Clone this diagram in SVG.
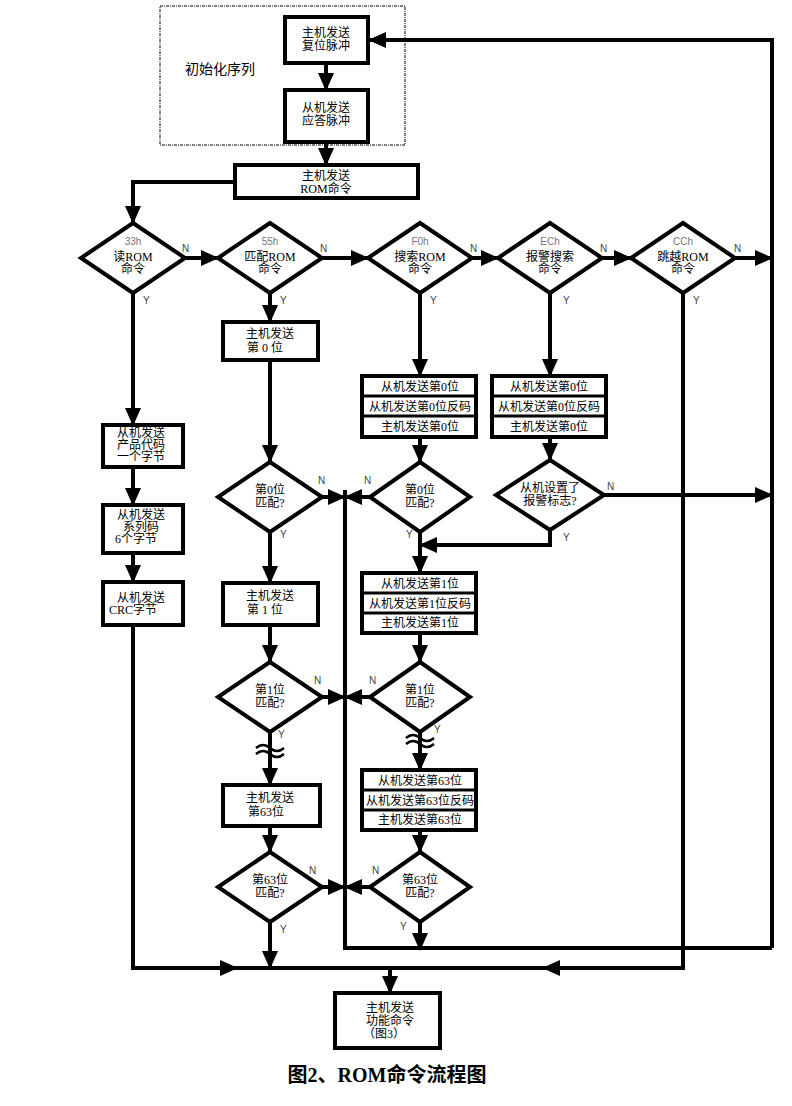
<svg xmlns="http://www.w3.org/2000/svg" width="792" height="1106" viewBox="0 0 792 1106">
<style>
.b{fill:#fff;stroke:#000;stroke-width:4}
.l{fill:none;stroke:#000;stroke-width:4}
.t{font-family:"Liberation Serif","Noto Sans CJK SC",serif;font-size:12px;text-anchor:middle;fill:#000}
.h{font-family:"Liberation Sans",sans-serif;font-size:10px;text-anchor:middle;fill:#777}
.n{font-family:"Liberation Sans",sans-serif;font-size:10px;fill:#444}
</style>
<defs>
<marker id="a" markerUnits="userSpaceOnUse" markerWidth="18" markerHeight="18" viewBox="0 0 18 18" refX="17" refY="9" orient="auto"><path d="M0,1 L18,9 L0,17 Z" fill="#000"/></marker>
</defs>
<rect x="0" y="0" width="792" height="1106" fill="#fff"/>
<g id="init">
<rect x="160" y="6" width="245" height="139" fill="none" stroke="#000" stroke-width="1" stroke-dasharray="3,1,1,1"/>
<text class="t" x="220" y="74" style="font-size:14px">初始化序列</text>
</g>
<g id="connectors">
<path class="l" d="M326,63 V90" marker-end="url(#a)"/>
<path class="l" d="M326,142 V165" marker-end="url(#a)"/>
<path class="l" d="M235,182 H133 V223" marker-end="url(#a)"/>
<path class="l" d="M185,258 H218" marker-end="url(#a)"/>
<path class="l" d="M322,258 H368" marker-end="url(#a)"/>
<path class="l" d="M472,258 H498" marker-end="url(#a)"/>
<path class="l" d="M602,258 H631" marker-end="url(#a)"/>
<path class="l" d="M735,258 H772" marker-end="url(#a)"/>
<path class="l" d="M772,948 V40 H369" marker-end="url(#a)"/>
<path class="l" d="M133,293 V425" marker-end="url(#a)"/>
<path class="l" d="M133,467 V505" marker-end="url(#a)"/>
<path class="l" d="M133,553 V582" marker-end="url(#a)"/>
<path class="l" d="M133,625 V968 H683 V293"/>
<path class="l" d="M133,968 H237" marker-end="url(#a)"/>
<path class="l" d="M683,968 H543" marker-end="url(#a)"/>
<path class="l" d="M390,968 V993" marker-end="url(#a)"/>
<path class="l" d="M270,293 V322" marker-end="url(#a)"/>
<path class="l" d="M270,360 V462" marker-end="url(#a)"/>
<path class="l" d="M270,532 V583" marker-end="url(#a)"/>
<path class="l" d="M270,625 V662" marker-end="url(#a)"/>
<path class="l" d="M270,732 V785" marker-end="url(#a)"/>
<path class="l" d="M270,826 V852" marker-end="url(#a)"/>
<path class="l" d="M270,922 V968" marker-end="url(#a)"/>
<path class="l" d="M420,293 V376" marker-end="url(#a)"/>
<path class="l" d="M420,437 V462" marker-end="url(#a)"/>
<path class="l" d="M420,532 V573" marker-end="url(#a)"/>
<path class="l" d="M420,633 V662" marker-end="url(#a)"/>
<path class="l" d="M420,732 V770" marker-end="url(#a)"/>
<path class="l" d="M420,830 V852" marker-end="url(#a)"/>
<path class="l" d="M420,922 V950" marker-end="url(#a)"/>
<path class="l" d="M550,293 V376" marker-end="url(#a)"/>
<path class="l" d="M550,437 V460" marker-end="url(#a)"/>
<path class="l" d="M550,530 V545 H420" marker-end="url(#a)"/>
<path class="l" d="M604,495 H772" marker-end="url(#a)"/>
<path class="l" d="M345,490 V948 H772"/>
<path class="l" d="M322,497 H345" marker-end="url(#a)"/>
<path class="l" d="M370,497 H345" marker-end="url(#a)"/>
<path class="l" d="M322,697 H345" marker-end="url(#a)"/>
<path class="l" d="M370,697 H345" marker-end="url(#a)"/>
<path class="l" d="M322,887 H345" marker-end="url(#a)"/>
<path class="l" d="M370,887 H345" marker-end="url(#a)"/>
<path d="M256,748 q7,-6 14,0 t14,0 M256,754 q7,-6 14,0 t14,0" fill="none" stroke="#000" stroke-width="2.5"/>
<path d="M406,738 q7,-6 14,0 t14,0 M406,744 q7,-6 14,0 t14,0" fill="none" stroke="#000" stroke-width="2.5"/>
</g>
<g id="reset"><rect class="b" x="285" y="17" width="83" height="46"/><text class="t" x="326" y="37">主机发送</text><text class="t" x="326" y="50">复位脉冲</text></g>
<g id="presence"><rect class="b" x="285" y="90" width="83" height="52"/><text class="t" x="326" y="112">从机发送</text><text class="t" x="326" y="125">应答脉冲</text></g>
<g id="romcmd"><rect class="b" x="235" y="165" width="183" height="33"/><text class="t" x="326" y="180">主机发送</text><text class="t" x="326" y="193">ROM命令</text></g>
<g id="d33"><path class="b" d="M133,223 L185,258 L133,293 L81,258 Z"/><text class="h" x="133" y="245">33h</text><text class="t" x="133" y="261">读ROM</text><text class="t" x="133" y="273">命令</text><text class="n" x="182" y="252">N</text><text class="n" x="143" y="304">Y</text></g>
<g id="d55"><path class="b" d="M270,223 L322,258 L270,293 L218,258 Z"/><text class="h" x="270" y="245">55h</text><text class="t" x="270" y="261">匹配ROM</text><text class="t" x="270" y="273">命令</text><text class="n" x="320" y="252">N</text><text class="n" x="280" y="304">Y</text></g>
<g id="dF0"><path class="b" d="M420,223 L472,258 L420,293 L368,258 Z"/><text class="h" x="420" y="245">F0h</text><text class="t" x="420" y="261">搜索ROM</text><text class="t" x="420" y="273">命令</text><text class="n" x="470" y="252">N</text><text class="n" x="430" y="304">Y</text></g>
<g id="dEC"><path class="b" d="M550,223 L602,258 L550,293 L498,258 Z"/><text class="h" x="550" y="245">ECh</text><text class="t" x="550" y="261">报警搜索</text><text class="t" x="550" y="273">命令</text><text class="n" x="600" y="252">N</text><text class="n" x="563" y="304">Y</text></g>
<g id="dCC"><path class="b" d="M683,223 L735,258 L683,293 L631,258 Z"/><text class="h" x="683" y="245">CCh</text><text class="t" x="683" y="261">跳越ROM</text><text class="t" x="683" y="273">命令</text><text class="n" x="734" y="252">N</text><text class="n" x="693" y="304">Y</text></g>
<g id="c1a"><rect class="b" x="103" y="425" width="80" height="42"/><text class="t" x="141" y="437">从机发送</text><text class="t" x="141" y="449">产品代码</text><text class="t" x="141" y="461">一个字节</text></g>
<g id="c1b"><rect class="b" x="103" y="505" width="80" height="48"/><text class="t" x="141" y="519">从机发送</text><text class="t" x="141" y="531">系列码</text><text class="t" x="136" y="543">6个字节</text></g>
<g id="c1c"><rect class="b" x="103" y="582" width="80" height="43"/><text class="t" x="141" y="602">从机发送</text><text class="t" x="133" y="614">CRC字节</text></g>
<g id="c2a"><rect class="b" x="223" y="322" width="95" height="38"/><text class="t" x="270" y="338">主机发送</text><text class="t" x="265" y="352">第 0 位</text></g>
<g id="c2d0"><path class="b" d="M270,462 L322,497 L270,532 L218,497 Z"/><text class="t" x="270" y="494">第0位</text><text class="t" x="270" y="507">匹配?</text><text class="n" x="318" y="484">N</text><text class="n" x="280" y="538">Y</text></g>
<g id="c2b"><rect class="b" x="223" y="583" width="95" height="42"/><text class="t" x="270" y="600">主机发送</text><text class="t" x="265" y="614">第 1 位</text></g>
<g id="c2d1"><path class="b" d="M270,662 L322,697 L270,732 L218,697 Z"/><text class="t" x="270" y="694">第1位</text><text class="t" x="270" y="707">匹配?</text><text class="n" x="314" y="684">N</text><text class="n" x="278" y="738">Y</text></g>
<g id="c2c"><rect class="b" x="223" y="785" width="97" height="41"/><text class="t" x="270" y="802">主机发送</text><text class="t" x="266" y="816">第63位</text></g>
<g id="c2d63"><path class="b" d="M270,852 L322,887 L270,922 L218,887 Z"/><text class="t" x="270" y="884">第63位</text><text class="t" x="270" y="897">匹配?</text><text class="n" x="309" y="874">N</text><text class="n" x="280" y="933">Y</text></g>
<g id="c3a"><rect class="b" x="362" y="376" width="114" height="61"/><path d="M362,396 H476 M362,416 H476" stroke="#000" stroke-width="3"/><text class="t" x="420" y="391">从机发送第0位</text><text class="t" x="420" y="411">从机发送第0位反码</text><text class="t" x="420" y="431">主机发送第0位</text></g>
<g id="c3d0"><path class="b" d="M420,462 L470,497 L420,532 L370,497 Z"/><text class="t" x="420" y="494">第0位</text><text class="t" x="420" y="507">匹配?</text><text class="n" x="364" y="484">N</text><text class="n" x="406" y="538">Y</text></g>
<g id="c3b"><rect class="b" x="362" y="573" width="114" height="60"/><path d="M362,593 H476 M362,613 H476" stroke="#000" stroke-width="3"/><text class="t" x="420" y="588">从机发送第1位</text><text class="t" x="420" y="608">从机发送第1位反码</text><text class="t" x="420" y="627">主机发送第1位</text></g>
<g id="c3d1"><path class="b" d="M420,662 L470,697 L420,732 L370,697 Z"/><text class="t" x="420" y="694">第1位</text><text class="t" x="420" y="707">匹配?</text><text class="n" x="369" y="684">N</text><text class="n" x="434" y="733">Y</text></g>
<g id="c3c"><rect class="b" x="362" y="770" width="114" height="60"/><path d="M362,790 H476 M362,810 H476" stroke="#000" stroke-width="3"/><text class="t" x="420" y="785">从机发送第63位</text><text class="t" x="420" y="805">从机发送第63位反码</text><text class="t" x="420" y="824">主机发送第63位</text></g>
<g id="c3d63"><path class="b" d="M420,852 L470,887 L420,922 L370,887 Z"/><text class="t" x="420" y="884">第63位</text><text class="t" x="420" y="897">匹配?</text><text class="n" x="372" y="874">N</text><text class="n" x="400" y="930">Y</text></g>
<g id="c4a"><rect class="b" x="492" y="376" width="114" height="61"/><path d="M492,396 H606 M492,416 H606" stroke="#000" stroke-width="3"/><text class="t" x="549" y="391">从机发送第0位</text><text class="t" x="549" y="411">从机发送第0位反码</text><text class="t" x="549" y="431">主机发送第0位</text></g>
<g id="c4d"><path class="b" d="M550,460 L604,495 L550,530 L496,495 Z"/><text class="t" x="550" y="492">从机设置了</text><text class="t" x="550" y="505">报警标志?</text><text class="n" x="607" y="490">N</text><text class="n" x="563" y="541">Y</text></g>
<g id="func"><rect class="b" x="335" y="993" width="105" height="55"/><text class="t" x="390" y="1012">主机发送</text><text class="t" x="390" y="1025">功能命令</text><text class="t" x="384" y="1038">（图3）</text></g>
<text x="387" y="1082" style="font-family:'Liberation Serif','Noto Sans CJK SC',serif;font-size:20px;font-weight:bold;text-anchor:middle">图2、ROM命令流程图</text>
</svg>
